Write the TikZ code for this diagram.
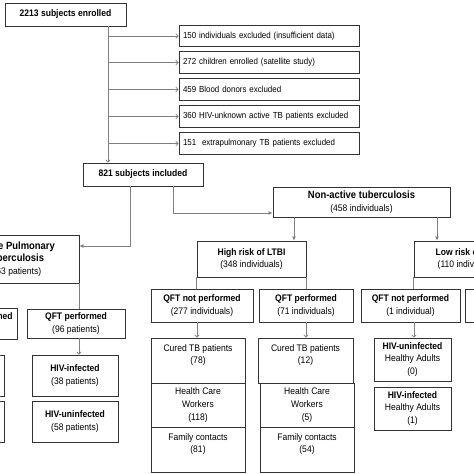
\documentclass[tikz,border=0pt]{standalone}
\usepackage{fontspec}
\setmainfont{Liberation Sans}[FakeStretch=0.9]
\usetikzlibrary{arrows.meta}
\newcommand{\titlefont}{\fontsize{10.5}{13}\selectfont\bfseries}
\begin{document}
\begin{tikzpicture}[x=1pt,y=-1pt,
    box/.style={draw=black!80,line width=0.9pt,fill=white,align=center,inner sep=1pt,font=\fontsize{9.5}{12.7}\selectfont},
    exbox/.style={box,align=left,text width=172pt,inner sep=4pt,minimum height=21.5pt,font=\fontsize{8.8}{10}\selectfont},
    link/.style={draw=black!50,line width=0.7pt},
    arr/.style={link,-{To[length=3pt,width=5pt]}},
    arrf/.style={link,-{Latex[length=4pt,width=4pt]}}]
    \useasboundingbox (0,0) rectangle (474,474);
    \clip (0,0) rectangle (474,474);
    \fill[white] (0,0) rectangle (474,474);
    % enrolment and exclusions
    \node[box,minimum width=121pt,minimum height=23pt] (enr) at (65.5,14.5) {\bfseries 2213 subjects enrolled};
    \node[exbox] (ex1) at (269,36) {150 individuals excluded (insufficient data)};
    \node[exbox] (ex2) at (269,62.5) {272 children enrolled (satellite study)};
    \node[exbox] (ex3) at (269,89.5) {459 Blood donors excluded};
    \node[exbox] (ex4) at (269,116.5) {360 HIV-unknown active TB patients excluded};
    \node[exbox] (ex5) at (269,143.5) {151~ extrapulmonary TB patients excluded};
    \node[box,minimum width=120pt,minimum height=23pt] (inc) at (143,174.5) {\bfseries 821 subjects included};
    \coordinate (trunk) at (108,26);
    \draw[arr] (trunk) -- (trunk |- inc.north);
    \foreach \i in {1,...,5}
        \draw[arr] (trunk |- ex\i.west) -- (ex\i.west);
    % active / non-active
    \node[box,minimum width=128pt,minimum height=48pt] (act) at (15,259) {{\titlefont Active Pulmonary}\\{\titlefont Tuberculosis}\\(363 patients)};
    \node[box,minimum width=177pt,minimum height=30pt] (non) at (361.5,202) {{\titlefont Non-active tuberculosis}\\(458 individuals)};
    \draw[arrf] ([xshift=-13pt]inc.south) |- ([yshift=13pt]act.east);
    \draw[arrf] ([xshift=30pt]inc.south) |- ([yshift=-11pt]non.west);
    \node[box,minimum width=109pt,minimum height=36pt] (high) at (251.5,259) {{\bfseries High risk of LTBI}\\(348 individuals)};
    \node[box,minimum width=109pt,minimum height=36pt] (low) at (468.5,259) {{\bfseries Low risk of LTBI}\\(110 individuals)};
    \draw[arrf] ([xshift=-67.5pt]non.south) -- ([xshift=-67.5pt]non.south |- high.north);
    \draw[arrf] ([xshift=75.5pt]non.south) -- ([xshift=75.5pt]non.south |- low.north);
    % QFT rows
    \node[box,minimum width=86pt,minimum height=31pt] (qn0) at (-26,323.5) {{\bfseries QFT not performed}\\(267 patients)};
    \node[box,minimum width=98pt,minimum height=29pt] (qp0) at (76,323.5) {{\bfseries QFT performed}\\(96 patients)};
    \node[box,minimum width=102pt,minimum height=33pt] (qn1) at (202,305.5) {{\bfseries QFT not performed}\\(277 individuals)};
    \node[box,minimum width=94pt,minimum height=33pt] (qp1) at (306,305.5) {{\bfseries QFT performed}\\(71 individuals)};
    \node[box,minimum width=99pt,minimum height=33pt] (qn2) at (410.5,305.5) {{\bfseries QFT not performed}\\(1 individual)};
    \node[box,minimum width=100pt,minimum height=33pt] (qp2) at (515,305.5) {};
    \draw[link] (act.south east) -- (act.south east |- qp0.north);
    \draw[link] (high.south west) -- (high.south west |- qn1.north);
    \draw[link] (high.south east) -- (high.south east |- qp1.north);
    \draw[link] (low.south west) -- (low.south west |- qn2.north);
    % groups
    \node[box,minimum width=88pt,minimum height=41pt] (lft1) at (-40,375.5) {};
    \node[box,minimum width=88pt,minimum height=41pt] (lft2) at (-40,421.5) {};
    \node[box,minimum width=86pt,minimum height=41pt] (hiv0) at (75,375.5) {{\bfseries HIV-infected}\\(38 patients)};
    \node[box,minimum width=86pt,minimum height=41pt] (hun0) at (75,421.5) {{\bfseries HIV-uninfected}\\(58 patients)};
    \node[box,minimum width=94pt,minimum height=45pt] (cur1) at (198,360.5) {Cured TB patients\\(78)\\~};
    \node[box,minimum width=94pt,minimum height=44pt] (hcw1) at (198,405) {Health Care\\Workers\\(118)};
    \node[box,minimum width=94pt,minimum height=45pt] (fam1) at (198,449.5) {Family contacts\\(81)\\~};
    \node[box,minimum width=95pt,minimum height=45pt] (cur2) at (305.5,360.5) {Cured TB patients\\(12)\\~};
    \node[box,minimum width=94pt,minimum height=44pt] (hcw2) at (307,405) {Health Care\\Workers\\(5)};
    \node[box,minimum width=94pt,minimum height=45pt] (fam2) at (307,449.5) {Family contacts\\(54)\\~};
    \node[box,minimum width=77pt,minimum height=43pt] (hu) at (412.5,359.5) {{\bfseries HIV-uninfected}\\Healthy Adults\\(0)};
    \node[box,minimum width=77pt,minimum height=43pt] (hi) at (412.5,408.5) {{\bfseries HIV-infected}\\Healthy Adults\\(1)};
    \draw[arr] ([xshift=3pt]qp0.south) -- ([xshift=3pt]qp0.south |- hiv0.north);
    \draw[arr] ([xshift=-5pt]qn1.south) -- ([xshift=-5pt]qn1.south |- cur1.north);
    \draw[arr] (qp1.south) -- (qp1.south |- cur2.north);
    \draw[arr] ([xshift=3.5pt]qn2.south) -- ([xshift=3.5pt]qn2.south |- hu.north);
\end{tikzpicture}
\end{document}
